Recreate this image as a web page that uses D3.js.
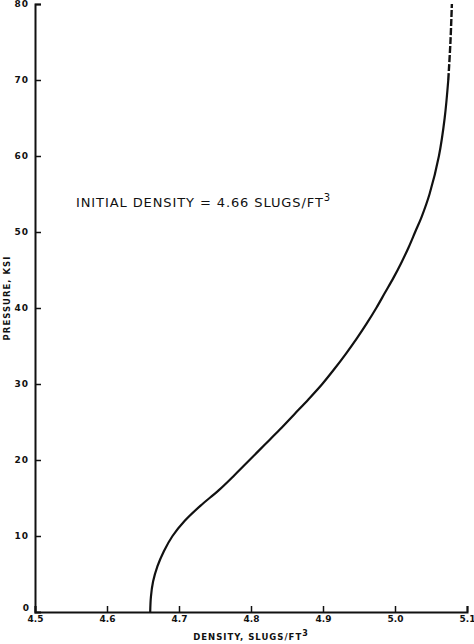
<!DOCTYPE html>
<html><head><meta charset="utf-8">
<script src="https://cdn.jsdelivr.net/npm/d3@7"></script>
<style>
body{margin:0;background:#fff;}
svg{display:block;}
text{font-family:"DejaVu Sans",sans-serif;fill:#111;}
</style></head>
<body>
<svg id="c" width="474" height="644"></svg>
<script>
const pressure = [0, 2, 4, 6, 8, 10, 12, 14, 16, 18, 20, 22, 24, 26, 28, 30, 32, 34, 36, 38, 40, 42, 44, 46, 48, 50, 52, 55, 60, 65, 70, 75, 80];
const density = [4.660, 4.661, 4.664, 4.670, 4.679, 4.691, 4.708, 4.730, 4.755, 4.777, 4.798, 4.819, 4.840, 4.860, 4.880, 4.899, 4.916, 4.932, 4.947, 4.961, 4.974, 4.986, 4.998, 5.009, 5.019, 5.028, 5.037, 5.048, 5.061, 5.069, 5.074, 5.077, 5.079];
const xTicks = [4.5, 4.6, 4.7, 4.8, 4.9, 5.0, 5.1];
const yTicks = [10, 20, 30, 40, 50, 60, 70, 80];
const dashedFrom = 70;

const svg = d3.select("#c");
const x = d3.scaleLinear().domain([4.5, 5.1]).range([35, 467]);
const y = d3.scaleLinear().domain([0, 80]).range([612, 4]);

// x axis
const xa = svg.append("g").attr("transform", "translate(0,612)")
  .call(d3.axisBottom(x).tickValues(xTicks).tickSize(-6).tickPadding(5).tickFormat(d3.format(".1f")));
xa.select(".domain").attr("stroke", "#111").attr("stroke-width", 2);
xa.selectAll(".tick line").attr("stroke", "#111").attr("stroke-width", 1.5);
xa.selectAll(".tick text").attr("font-size", 9).attr("font-weight", "bold").attr("dy", "0.6em").attr("fill","#111");
// y axis
const ya = svg.append("g").attr("transform", "translate(35,0)")
  .call(d3.axisLeft(y).tickValues(yTicks).tickSize(-6).tickPadding(6));
ya.select(".domain").attr("stroke", "#111").attr("stroke-width", 2);
ya.selectAll(".tick line").attr("stroke", "#111").attr("stroke-width", 1.5);
ya.selectAll(".tick text").attr("font-size", 9).attr("font-weight", "bold").attr("fill","#111").attr("letter-spacing", 1);
// "0" label
svg.append("text").attr("x", 29).attr("y", 611).attr("text-anchor", "end")
  .attr("font-size", 9).attr("font-weight", "bold").text("0");

// curve
const pts = pressure.map((p,i)=>[density[i], p]);
const idx = pressure.indexOf(dashedFrom);
const gen = d3.line().x(d=>x(d[0])).y(d=>y(d[1])).curve(d3.curveCatmullRom.alpha(0.5));
svg.append("path").datum(pts.slice(0, idx+1)).attr("d", gen)
  .attr("fill","none").attr("stroke","#111").attr("stroke-width",2.2);
svg.append("path").datum(pts.slice(idx)).attr("d", gen)
  .attr("fill","none").attr("stroke","#111").attr("stroke-width",2.4).attr("stroke-dasharray","7,2");

// axis titles
const xt = svg.append("text").attr("x", 251).attr("y", 640).attr("text-anchor","middle")
  .attr("font-size", 8.5).attr("font-weight","bold").attr("letter-spacing", 1);
xt.append("tspan").text("DENSITY, SLUGS/FT");
xt.append("tspan").attr("dy", -4).attr("font-size", 8).text("3");

svg.append("text").attr("transform","translate(10,298) rotate(-90)").attr("text-anchor","middle")
  .attr("font-size", 8.5).attr("font-weight","bold").attr("letter-spacing", 1).text("PRESSURE, KSI");

// annotation
const an = svg.append("text").attr("x", 76).attr("y", 207).attr("font-size", 13).attr("letter-spacing", 0.9);
an.append("tspan").text("INITIAL DENSITY = 4.66 SLUGS/FT");
an.append("tspan").attr("dy", -6).attr("font-size", 10).text("3");
</script>
</body></html>
